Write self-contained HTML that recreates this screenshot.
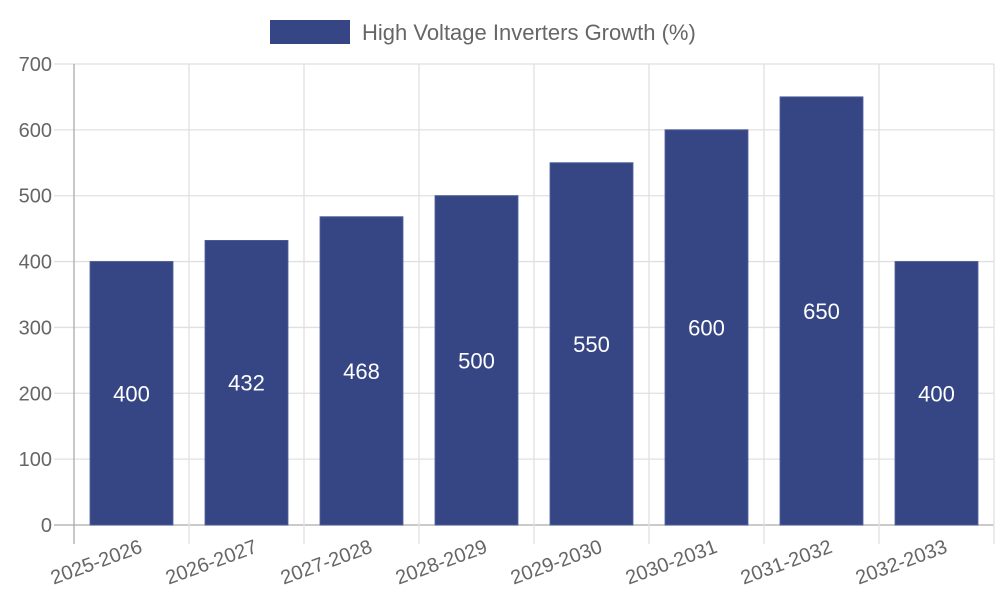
<!DOCTYPE html>
<html><head><meta charset="utf-8"><style>
html,body{margin:0;padding:0;background:#fff;}
svg{display:block;font-family:"Liberation Sans",sans-serif;}
</style></head><body>
<svg id="chart" width="1000" height="600" xmlns="http://www.w3.org/2000/svg">
<g id="legend">
<rect x="270" y="20" width="80" height="24" fill="#364684"/>
<text x="362" y="40" font-size="22" fill="#666">High Voltage Inverters Growth (%)</text>
</g>
</svg>
<script>
const categories=["2025-2026","2026-2027","2027-2028","2028-2029","2029-2030","2030-2031","2031-2032","2032-2033"];
const values=[400,432,468,500,550,600,650,400];
const yTicks=[0,100,200,300,400,500,600,700];
const svg=document.getElementById('chart');
const NS='http://www.w3.org/2000/svg';
const L=74,R=994,T=64,B=525,yMax=700;
const bw=(R-L)/categories.length;
const y=v=>B-(v/yMax)*(B-T);
const x=i=>L+i*bw;
function mk(t,a){const e=document.createElementNS(NS,t);for(const k in a)e.setAttribute(k,a[k]);svg.appendChild(e);return e;}
yTicks.forEach(v=>{
  const g=mk('line',{x1:54,x2:R,y1:y(v),y2:y(v),stroke:v===0?'#aaa':'#e0e0e0','stroke-width':1.3});
  
  
  const t=mk('text',{x:52,y:y(v)+7,'text-anchor':'end','font-size':20,fill:'#666'});
  t.textContent=v;
  
  
});
for(let i=0;i<=categories.length;i++){
  const g=mk('line',{x1:x(i),x2:x(i),y1:T,y2:B+19,stroke:i===0?'#aaa':'#e0e0e0','stroke-width':1.3});
  
  
}
categories.forEach((c,i)=>{
  const cx=x(i)+bw/2, w=bw*0.72;
  const r=mk('rect',{x:cx-w/2,y:y(values[i]),width:w,height:B-y(values[i]),fill:'#364684',stroke:'#4a5a98','stroke-width':1});
  
  
  const v=mk('text',{x:cx,y:(y(values[i])+B)/2+8,'text-anchor':'middle','font-size':22,fill:'#fff'});
  v.textContent=values[i];
  
  
  const t=mk('text',{x:cx+12,y:B+27,'text-anchor':'end','font-size':20,fill:'#666',transform:`rotate(-20 ${cx+12} ${B+27})`});
  t.textContent=c;
  
  
});
</script>
</body></html>
